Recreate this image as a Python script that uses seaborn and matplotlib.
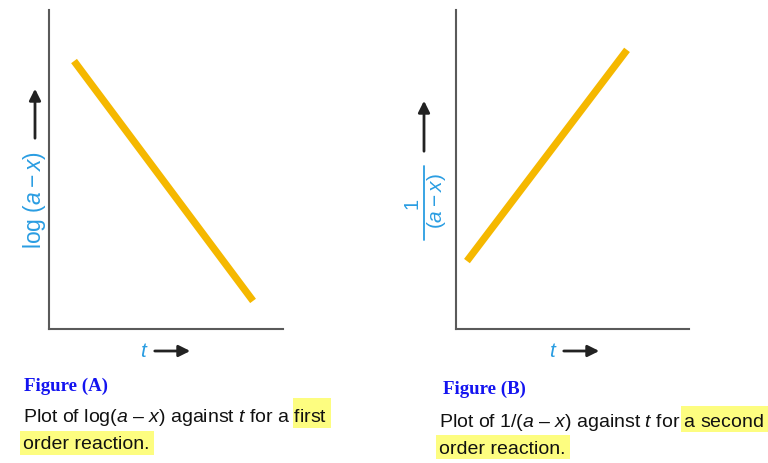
import seaborn as sns
import matplotlib.pyplot as plt
from matplotlib.patches import FancyArrowPatch, Rectangle
from matplotlib.lines import Line2D

# (axis units 0..10)
t_first = [1.07, 8.72]
log_conc = [8.40, 0.88]
t_second = [0.47, 7.34]
inv_conc = [2.13, 8.75]

LINE = '#f5b800'
BLUE = '#2a9de2'
FIGBLUE = '#1414f0'
HIGHLIGHT = '#fdfd80'
W, H = 768, 463

sns.set_theme(style='white')
plt.rcParams['font.family'] = ['Liberation Sans', 'DejaVu Sans']
plt.rcParams['mathtext.fontset'] = 'custom'
plt.rcParams['mathtext.rm'] = 'Liberation Sans'
plt.rcParams['mathtext.it'] = 'Liberation Sans:italic'

fig = plt.figure(figsize=(W / 100, H / 100), dpi=100)
fig.patch.set_facecolor('white')


def box(l, t, r, b):
    return [l / W, 1 - b / H, (r - l) / W, (b - t) / H]


def px(x, y):
    return (x / W, 1 - y / H)


ax1 = fig.add_axes(box(49, 10, 283, 329))
ax2 = fig.add_axes(box(456, 10, 689, 329))
for ax, tt, yy in [(ax1, t_first, log_conc), (ax2, t_second, inv_conc)]:
    sns.lineplot(x=tt, y=yy, ax=ax, color=LINE, lw=5.2, solid_capstyle='butt')
    ax.set_xlim(0, 10)
    ax.set_ylim(0, 10)
    ax.set_xticks([])
    ax.set_yticks([])
    ax.set_facecolor('none')
    for s in ['top', 'right']:
        ax.spines[s].set_visible(False)
    for s in ['left', 'bottom']:
        ax.spines[s].set_color('#5a5a5a')
        ax.spines[s].set_linewidth(1.5)


def arrow(x0, y0, x1, y1):
    fig.add_artist(FancyArrowPatch(
        px(x0, y0), px(x1, y1), transform=fig.transFigure,
        arrowstyle='-|>', mutation_scale=17, lw=2, color='#222222'))


# axis labels
fig.text(*px(35, 200), r'log $(a - x)$', rotation=90, color=BLUE,
         ha='center', va='center', fontsize=16.5)
arrow(35, 141, 35, 86)

fig.text(*px(412, 203), '1', rotation=90, color=BLUE, ha='center', va='center', fontsize=14.5)
fig.text(*px(437, 201), r'$(a - x)$', rotation=90, color=BLUE, ha='center', va='center', fontsize=15)
fig.add_artist(Line2D([424 / W, 424 / W], [1 - 166 / H, 1 - 240 / H], color=BLUE, lw=1.3,
                      transform=fig.transFigure))
arrow(424, 154, 424, 98)

for tx in [140, 549]:
    fig.text(*px(tx, 357), 't', style='italic', color=BLUE, fontsize=15, ha='left', va='baseline')
    arrow(tx + 12, 351, tx + 53, 351)

fig.text(*px(24, 391), 'Figure (A)', family='Liberation Serif', weight='bold',
         color=FIGBLUE, fontsize=13.6, va='baseline')
fig.text(*px(443, 394), 'Figure (B)', family='Liberation Serif', weight='bold',
         color=FIGBLUE, fontsize=13.6, va='baseline')

renderer = fig.canvas.get_renderer()
CAP = 14
kw = dict(fontsize=CAP, color='#111111', ha='left', va='baseline', zorder=5)


def width(s):
    t = fig.text(0, 0, s, **kw)
    w = t.get_window_extent(renderer).width
    t.remove()
    return w


def caption(x, y, plain, marked, top, bottom):
    full = (plain + ' ' + marked) if plain else marked
    fig.text(*px(x, y), full, **kw)
    w_full = width(full)
    w_mark = width(marked)
    x0 = x + w_full - w_mark - 3
    x1 = x + w_full + 4
    fig.add_artist(Rectangle((x0 / W, 1 - bottom / H), (x1 - x0) / W, (bottom - top) / H,
                             transform=fig.transFigure, facecolor=HIGHLIGHT,
                             edgecolor='none', zorder=1))


caption(23, 422, r'Plot of log($a$ – $x$) against $t$ for a', 'first', 398, 428)
caption(23, 449, '', 'order reaction.', 431, 455)
caption(439, 427, r'Plot of 1/($a$ – $x$) against $t$ for', 'a second', 406, 432)
caption(439, 454, '', 'order reaction.', 435, 459)

fig.savefig('out.png', dpi=100, facecolor='white')
